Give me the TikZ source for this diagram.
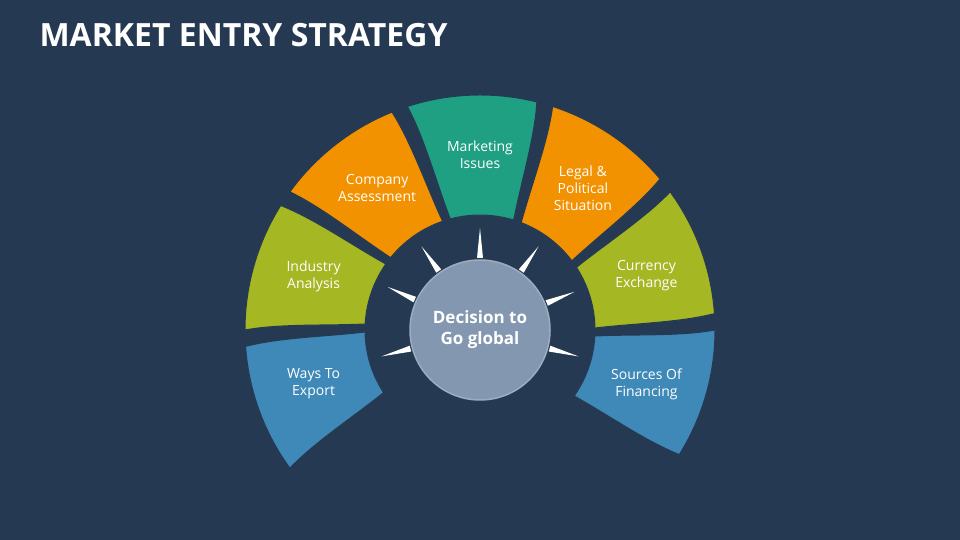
\documentclass[tikz,border=0pt]{standalone}
\usepackage{fontspec}
\setmainfont{Open Sans}
\usetikzlibrary{calc}
\definecolor{bg}{HTML}{253A52}
\definecolor{cblue}{HTML}{3F89B8}
\definecolor{cgreen}{HTML}{A6B724}
\definecolor{corange}{HTML}{F39200}
\definecolor{cteal}{HTML}{20A083}
\definecolor{ccirc}{HTML}{8497B0}
\tikzset{lbl/.style={text=white,font=\fontsize{14}{17}\selectfont,align=center},
 seg/.style={draw=bg,line width=1pt}}
\begin{document}
\begin{tikzpicture}[x=1pt,y=1pt]
\fill[bg] (0,0) rectangle (960,540);
\useasboundingbox (0,0) rectangle (960,540);
\node[anchor=west,text=white,font=\fontsize{32}{36}\bfseries\selectfont] (title) at (36,505) {MARKET ENTRY STRATEGY};
\coordinate (c) at (480,210);
\foreach \a/\col/\txt [count=\i] in {
 -35/cblue/{Sources Of\\Financing},
 1/cgreen/{Currency\\Exchange},
 37/corange/{Legal \&\\Political\\Situation},
 73/cteal/{Marketing\\Issues},
 109/corange/{Company\\Assessment},
 145/cgreen/{Industry\\Analysis},
 181/cblue/{Ways To\\Export}}{
 \pgfmathsetmacro\b{\a+32}
 \pgfmathsetmacro\m{\a+16}
 \fill[\col,seg] ($(c)+(\a:115pt)$) arc[start angle=\a,end angle=\b,radius=115pt]
   .. controls ($(c)+(\b:155pt)+(\b+90:4pt)$) and ($(c)+(\b:200pt)+(\b+90:4pt)$) .. ($(c)+(\b+3:235pt)$)
   arc[start angle=\b+3,end angle=\a+3,radius=235pt]
   .. controls ($(c)+(\a:200pt)+(\a+90:4pt)$) and ($(c)+(\a:155pt)+(\a+90:4pt)$) .. cycle;
 \node[lbl] (s\i) at ($(c)+(\m+1:175pt)$) {\txt};
}
\foreach \ang in {90,55,22,-15,125,155,195}{
 \fill[white] ($(c)+(\ang:72pt)+(\ang+90:3pt)$) -- ($(c)+(\ang:102pt)$) -- ($(c)+(\ang:72pt)+(\ang-90:3pt)$) -- cycle;
}
\node[circle,fill=ccirc,draw=ccirc!80!white,line width=1.5pt,minimum size=140pt,text=white,align=center,font=\fontsize{17}{21}\bfseries\selectfont] (center) at (c) {Decision to\\Go global};
\end{tikzpicture}
\end{document}
